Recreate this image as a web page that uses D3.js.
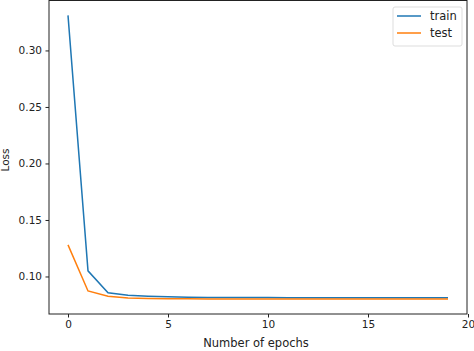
<!DOCTYPE html>
<html>
<head>
<script src="https://d3js.org/d3.v7.min.js"></script>
<style>
  body { margin: 0; background: #fff; }
  text { font-family: "DejaVu Sans", sans-serif; fill: #222; }
</style>
</head>
<body>
<svg width="474" height="351"></svg>
<script>
const epochs = d3.range(0, 20);
const train = [0.331, 0.105, 0.0856, 0.0834, 0.0826, 0.0820, 0.0817, 0.0815, 0.0814, 0.0813,
               0.0813, 0.0812, 0.0812, 0.0812, 0.0812, 0.0812, 0.0812, 0.0812, 0.0812, 0.0812];
const test = [0.128, 0.0872, 0.0826, 0.0810, 0.0806, 0.0803, 0.0802, 0.0801, 0.0801, 0.0800,
              0.0800, 0.0800, 0.0800, 0.0800, 0.0800, 0.0800, 0.0800, 0.0800, 0.0800, 0.0800];
const xTicks = [0, 5, 10, 15, 20];
const yTicks = [0.10, 0.15, 0.20, 0.25, 0.30];
const series = [
  {name: "train", values: train, color: "#1f77b4"},
  {name: "test", values: test, color: "#ff7f0e"}
];

const mLeft = 49, mRight = 467, mTop = 0.5, mBottom = 314;
const svg = d3.select("svg");

const x = d3.scaleLinear().domain([-0.95, 19.95]).range([mLeft, mRight]);
const y = d3.scaleLinear().domain([0.0668, 0.3442]).range([mBottom, mTop]);

// frame
svg.append("rect")
  .attr("x", mLeft).attr("y", mTop)
  .attr("width", mRight - mLeft).attr("height", mBottom - mTop)
  .attr("fill", "none").attr("stroke", "#222").attr("stroke-width", 1);

const xAxis = svg.append("g")
  .attr("transform", `translate(0,${mBottom})`)
  .call(d3.axisBottom(x).tickValues(xTicks).tickSize(3.5).tickPadding(3.5).tickFormat(d3.format("d")));
const yAxis = svg.append("g")
  .attr("transform", `translate(${mLeft},0)`)
  .call(d3.axisLeft(y).tickValues(yTicks).tickSize(3.5).tickPadding(3.5).tickFormat(d3.format(".2f")));
[xAxis, yAxis].forEach(g => {
  g.select(".domain").remove();
  g.selectAll("line").attr("stroke", "#222");
  g.selectAll("text").attr("font-size", 10.5).attr("font-family", "DejaVu Sans").attr("fill", "#222");
});

const line = d3.line().x((d, i) => x(epochs[i])).y(d => y(d));
series.forEach(s => {
  svg.append("path")
    .datum(s.values)
    .attr("d", line)
    .attr("fill", "none")
    .attr("stroke", s.color)
    .attr("stroke-width", 1.5);
});

// labels
svg.append("text")
  .attr("x", 256).attr("y", 347)
  .attr("text-anchor", "middle").attr("font-size", 11.5)
  .text("Number of epochs");
svg.append("text")
  .attr("transform", "translate(9,160) rotate(-90)")
  .attr("text-anchor", "middle").attr("font-size", 10.5)
  .text("Loss");

// legend
const legend = svg.append("g").attr("transform", "translate(393,7)");
legend.append("rect")
  .attr("width", 69).attr("height", 39).attr("rx", 2)
  .attr("fill", "#fff").attr("fill-opacity", 0.8)
  .attr("stroke", "#ddd");
series.forEach((s, i) => {
  const ly = 9 + i * 17;
  legend.append("line")
    .attr("x1", 4).attr("x2", 28).attr("y1", ly).attr("y2", ly)
    .attr("stroke", s.color).attr("stroke-width", 1.5);
  legend.append("text")
    .attr("x", 37).attr("y", ly + 4)
    .attr("font-size", 11.5)
    .text(s.name);
});
</script>
</body>
</html>
